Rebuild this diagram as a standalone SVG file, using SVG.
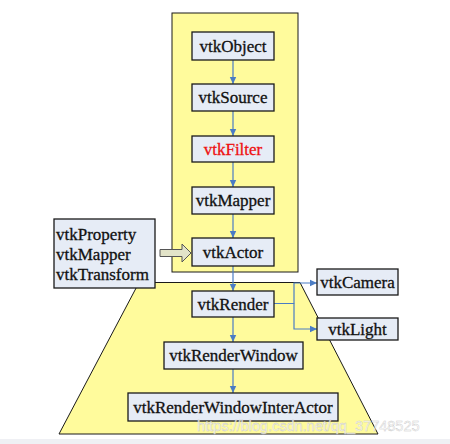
<svg xmlns="http://www.w3.org/2000/svg" width="450" height="444" viewBox="0 0 450 444">
  <style>
    .box { fill: #E6ECF6; stroke: #1a1a1a; stroke-width: 1.3; }
    .lbl { font-family: 'Liberation Serif', 'Times New Roman', serif; font-size: 17px; fill: #111; stroke: #111; stroke-width: 0.3; text-anchor: middle; }
    .conn { stroke: #4A7CC4; stroke-width: 1.2; fill: none; }
    .area { fill: #FFFB9C; stroke: #1a1a1a; stroke-width: 1; }
  </style>
  <defs>
    <marker id="ah" markerWidth="8" markerHeight="8" refX="7" refY="4" orient="auto" markerUnits="userSpaceOnUse">
      <path d="M0,0.8 L7,4 L0,7.2 Z" fill="#4A7CC4"/>
    </marker>
  </defs>
  <rect x="0" y="0" width="450" height="444" fill="#ffffff"/>
  <rect x="0" y="439" width="450" height="5" fill="#EFF0F4"/>

  <g id="areas">
    <polygon class="area" points="139,282.5 300,282.5 378,434 59,434"/>
    <rect class="area" x="172" y="13" width="126" height="259"/>
  </g>

  <g id="connectors">
    <line class="conn" x1="233" y1="60" x2="233" y2="84" marker-end="url(#ah)"/>
    <line class="conn" x1="233" y1="111" x2="233" y2="136" marker-end="url(#ah)"/>
    <line class="conn" x1="233" y1="162" x2="233" y2="187" marker-end="url(#ah)"/>
    <line class="conn" x1="233" y1="214" x2="233" y2="238" marker-end="url(#ah)"/>
    <line class="conn" x1="233" y1="266" x2="233" y2="291" marker-end="url(#ah)"/>
    <line class="conn" x1="233" y1="317" x2="233" y2="342" marker-end="url(#ah)"/>
    <line class="conn" x1="233" y1="369" x2="233" y2="393" marker-end="url(#ah)"/>
    <polyline class="conn" points="274,303.5 294,303.5 294,283 317,283" marker-end="url(#ah)"/>
    <polyline class="conn" points="294,303.5 294,329 317,329" marker-end="url(#ah)"/>
    <polygon points="160,249.5 182,249.5 182,244 191,253 182,262 182,256.5 160,256.5" fill="#E2E3C8" stroke="#555" stroke-width="1"/>
  </g>

  <g id="vtkObject">
    <rect class="box" x="192" y="32" width="82" height="28"/>
    <text class="lbl" x="233" y="52">vtkObject</text>
  </g>
  <g id="vtkSource">
    <rect class="box" x="192" y="84" width="82" height="27"/>
    <text class="lbl" x="233" y="103">vtkSource</text>
  </g>
  <g id="vtkFilter">
    <rect class="box" x="192" y="136" width="82" height="26"/>
    <text class="lbl" x="233" y="155" style="fill:#EE1111;stroke:#EE1111">vtkFilter</text>
  </g>
  <g id="vtkMapper">
    <rect class="box" x="192" y="187" width="82" height="27"/>
    <text class="lbl" x="233" y="206">vtkMapper</text>
  </g>
  <g id="vtkActor">
    <rect class="box" x="192" y="238" width="82" height="28"/>
    <text class="lbl" x="233" y="258">vtkActor</text>
  </g>
  <g id="inputs">
    <rect class="box" x="54" y="219" width="101" height="69"/>
    <text class="lbl" x="56" y="240" style="text-anchor:start">vtkProperty</text>
    <text class="lbl" x="56" y="260" style="text-anchor:start">vtkMapper</text>
    <text class="lbl" x="56" y="280" style="text-anchor:start">vtkTransform</text>
  </g>
  <g id="vtkRender">
    <rect class="box" x="192" y="291" width="82" height="26"/>
    <text class="lbl" x="233" y="310">vtkRender</text>
  </g>
  <g id="vtkCamera">
    <rect class="box" x="317" y="269" width="81" height="26"/>
    <text class="lbl" x="357.5" y="288">vtkCamera</text>
  </g>
  <g id="vtkLight">
    <rect class="box" x="317" y="318" width="81" height="22"/>
    <text class="lbl" x="357.5" y="335">vtkLight</text>
  </g>
  <g id="vtkRenderWindow">
    <rect class="box" x="164" y="342" width="139" height="27"/>
    <text class="lbl" x="233.5" y="361">vtkRenderWindow</text>
  </g>
  <g id="vtkRenderWindowInterActor">
    <rect class="box" x="128" y="393" width="210" height="28"/>
    <text class="lbl" x="233" y="413">vtkRenderWindowInterActor</text>
  </g>

  <text x="197" y="431" font-family="Liberation Sans, Arial, sans-serif" font-size="14.5" fill="#ffffff" fill-opacity="0.75" stroke="#c8c8c8" stroke-width="0.4">https://blog.csdn.net/qq_37748525</text>
</svg>
